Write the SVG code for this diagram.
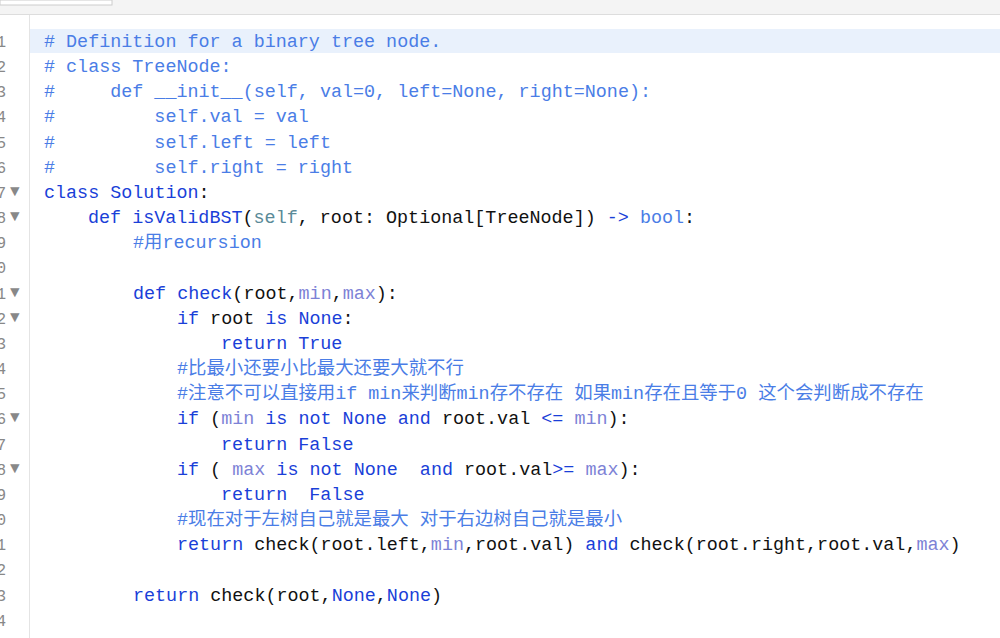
<svg xmlns="http://www.w3.org/2000/svg" width="1000" height="638" viewBox="0 0 1000 638">
<style>
text{font-family:"Liberation Mono","Noto Sans CJK SC",monospace;font-size:18.4px;fill:#111;white-space:pre}
.c{fill:#4a7de6}.k{fill:#1a3fd8}.s{fill:#5a8a98}.v{fill:#7d82d6}.b{fill:#4a7de6}
.g{font-size:16px;fill:#888}
</style>
<rect width="1000" height="638" fill="#fff"/>
<rect width="1000" height="14" fill="#f4f4f4"/>
<rect x="0" y="0" width="112" height="5" fill="#fff" stroke="#ccc"/>
<line x1="0" y1="14.5" x2="1000" y2="14.5" stroke="#ddd"/>
<line x1="29.5" y1="15" x2="29.5" y2="638" stroke="#e4e4e4"/>
<rect x="30" y="29" width="970" height="24" fill="#e9f1fc"/>
<g id="gutter" class="g">
<text class="g" x="6" y="47" text-anchor="end">1</text>
<text class="g" x="6" y="72" text-anchor="end">2</text>
<text class="g" x="6" y="97" text-anchor="end">3</text>
<text class="g" x="6" y="122" text-anchor="end">4</text>
<text class="g" x="6" y="148" text-anchor="end">5</text>
<text class="g" x="6" y="173" text-anchor="end">6</text>
<text class="g" x="6" y="198" text-anchor="end">7</text><text class="g" x="10" y="196" font-size="11">▼</text>
<text class="g" x="6" y="223" text-anchor="end">8</text><text class="g" x="10" y="221" font-size="11">▼</text>
<text class="g" x="6" y="248" text-anchor="end">9</text>
<text class="g" x="6" y="273" text-anchor="end">0</text>
<text class="g" x="6" y="299" text-anchor="end">1</text><text class="g" x="10" y="297" font-size="11">▼</text>
<text class="g" x="6" y="324" text-anchor="end">2</text><text class="g" x="10" y="322" font-size="11">▼</text>
<text class="g" x="6" y="349" text-anchor="end">3</text>
<text class="g" x="6" y="374" text-anchor="end">4</text>
<text class="g" x="6" y="399" text-anchor="end">5</text>
<text class="g" x="6" y="424" text-anchor="end">6</text><text class="g" x="10" y="422" font-size="11">▼</text>
<text class="g" x="6" y="450" text-anchor="end">7</text>
<text class="g" x="6" y="475" text-anchor="end">8</text><text class="g" x="10" y="473" font-size="11">▼</text>
<text class="g" x="6" y="500" text-anchor="end">9</text>
<text class="g" x="6" y="525" text-anchor="end">0</text>
<text class="g" x="6" y="550" text-anchor="end">1</text>
<text class="g" x="6" y="575" text-anchor="end">2</text>
<text class="g" x="6" y="601" text-anchor="end">3</text>
<text class="g" x="6" y="626" text-anchor="end">4</text>
</g>
<g id="code">
<text x="44" y="47" class="c"># Definition for a binary tree node.</text>
<text x="44" y="72" class="c"># class TreeNode:</text>
<text x="44" y="97" class="c">#     def __init__(self, val=0, left=None, right=None):</text>
<text x="44" y="122" class="c">#         self.val = val</text>
<text x="44" y="148" class="c">#         self.left = left</text>
<text x="44" y="173" class="c">#         self.right = right</text>
<text x="44" y="198"><tspan class="k">class</tspan> <tspan class="k">Solution</tspan>:</text>
<text x="88" y="223"><tspan class="k">def</tspan> <tspan class="k">isValidBST</tspan>(<tspan class="s">self</tspan>, root: Optional[TreeNode]) <tspan class="k">-&gt;</tspan> <tspan class="b">bool</tspan>:</text>
<text x="133" y="248" class="c">#用recursion</text>
<text x="133" y="299"><tspan class="k">def</tspan> <tspan class="k">check</tspan>(root,<tspan class="v">min</tspan>,<tspan class="v">max</tspan>):</text>
<text x="177" y="324"><tspan class="k">if</tspan> root <tspan class="k">is</tspan> <tspan class="k">None</tspan>:</text>
<text x="221" y="349"><tspan class="k">return</tspan> <tspan class="k">True</tspan></text>
<text x="177" y="374" class="c">#比最小还要小比最大还要大就不行</text>
<text x="177" y="399" class="c">#注意不可以直接用if min来判断min存不存在 如果min存在且等于0 这个会判断成不存在</text>
<text x="177" y="424"><tspan class="k">if</tspan> (<tspan class="v">min</tspan> <tspan class="k">is</tspan> <tspan class="k">not</tspan> <tspan class="k">None</tspan> <tspan class="k">and</tspan> root.val <tspan class="k">&lt;=</tspan> <tspan class="v">min</tspan>):</text>
<text x="221" y="450"><tspan class="k">return</tspan> <tspan class="k">False</tspan></text>
<text x="177" y="475"><tspan class="k">if</tspan> ( <tspan class="v">max</tspan> <tspan class="k">is</tspan> <tspan class="k">not</tspan> <tspan class="k">None</tspan>  <tspan class="k">and</tspan> root.val<tspan class="k">&gt;=</tspan> <tspan class="v">max</tspan>):</text>
<text x="221" y="500"><tspan class="k">return</tspan>  <tspan class="k">False</tspan></text>
<text x="177" y="525" class="c">#现在对于左树自己就是最大 对于右边树自己就是最小</text>
<text x="177" y="550"><tspan class="k">return</tspan> check(root.left,<tspan class="v">min</tspan>,root.val) <tspan class="k">and</tspan> check(root.right,root.val,<tspan class="v">max</tspan>)</text>
<text x="133" y="601"><tspan class="k">return</tspan> check(root,<tspan class="k">None</tspan>,<tspan class="k">None</tspan>)</text>
</g>
</svg>
